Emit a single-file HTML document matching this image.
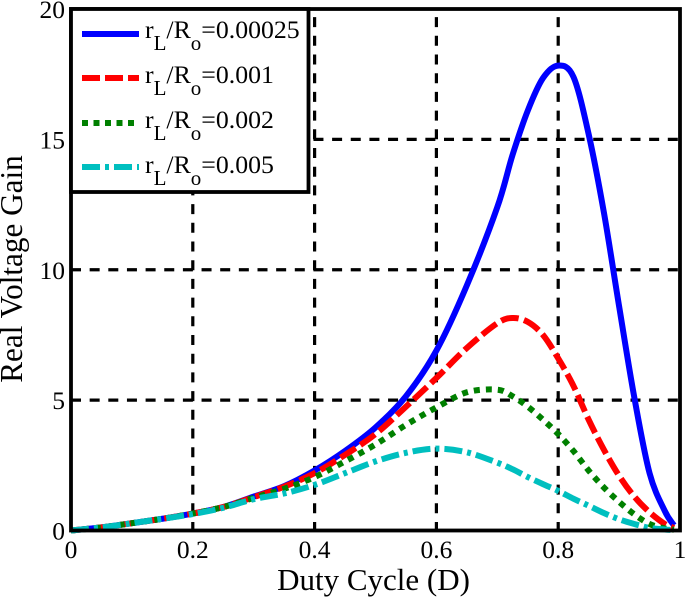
<!DOCTYPE html>
<html>
<head>
<meta charset="utf-8">
<style>
html,body{margin:0;padding:0;background:#fff;width:685px;height:598px;overflow:hidden}
svg{display:block}
text{font-family:"Liberation Serif",serif;fill:#000}
</style>
</head>
<body>
<svg id="chart" width="685" height="598" viewBox="0 0 685 598" xmlns="http://www.w3.org/2000/svg">
  <g id="grid"></g>
  <g id="series"></g>
  <rect x="71" y="9" width="609" height="521.5" fill="none" stroke="#000" stroke-width="3.8"/>
  <g id="xticks"></g>
  <g id="yticks"></g>
  <text x="373.5" y="590" text-anchor="middle" font-size="31">Duty Cycle (D)</text>
  <text transform="translate(22,269) rotate(-90)" text-anchor="middle" font-size="31.2">Real Voltage Gain</text>

  <g>
    <rect x="71" y="9" width="237.5" height="183" fill="#fff" stroke="#000" stroke-width="3.8"/>
    <line x1="82" y1="34" x2="139" y2="34" stroke="#0000ff" stroke-width="6"/>
    <text x="145" y="38" font-size="25.8">r<tspan dy="12" font-size="21">L</tspan><tspan dy="-12">/R</tspan><tspan dy="12" font-size="21">o</tspan><tspan dy="-12">=0.00025</tspan></text>
    <line x1="82" y1="78" x2="139" y2="78" stroke="#ff0000" stroke-width="6" stroke-dasharray="18 5"/>
    <text x="145" y="83" font-size="25.8">r<tspan dy="12" font-size="21">L</tspan><tspan dy="-12">/R</tspan><tspan dy="12" font-size="21">o</tspan><tspan dy="-12">=0.001</tspan></text>
    <line x1="82" y1="123" x2="139" y2="123" stroke="#008000" stroke-width="6" stroke-dasharray="6 5.5"/>
    <text x="145" y="128" font-size="25.8">r<tspan dy="12" font-size="21">L</tspan><tspan dy="-12">/R</tspan><tspan dy="12" font-size="21">o</tspan><tspan dy="-12">=0.002</tspan></text>
    <line x1="82" y1="167" x2="139" y2="167" stroke="#00bfbf" stroke-width="6" stroke-dasharray="18 5 4 5"/>
    <text x="145" y="173" font-size="25.8">r<tspan dy="12" font-size="21">L</tspan><tspan dy="-12">/R</tspan><tspan dy="12" font-size="21">o</tspan><tspan dy="-12">=0.005</tspan></text>
  </g>
</svg>
<script>
const xTicks = [0, 0.2, 0.4, 0.6, 0.8, 1];
const yTicks = [0, 5, 10, 15, 20];
const dutyCycle = [0, 0.05, 0.1, 0.15, 0.2, 0.25, 0.3, 0.35, 0.4, 0.45, 0.5, 0.55, 0.6, 0.65, 0.7, 0.725, 0.75, 0.775, 0.8, 0.825, 0.85, 0.875, 0.9, 0.925, 0.95, 0.975, 0.99];
const gain00025 = [0, 0.12, 0.28, 0.45, 0.65, 0.9, 1.3, 1.7, 2.3, 3.05, 3.95, 5.15, 6.9, 9.4, 12.4, 14.4, 16.1, 17.35, 17.83, 17.4, 15.2, 12.2, 8.6, 5.1, 2.2, 0.75, 0.2];
const gain001 = [0, 0.12, 0.28, 0.45, 0.65, 0.9, 1.28, 1.68, 2.2, 2.9, 3.7, 4.75, 5.85, 7, 7.95, 8.15, 8, 7.5, 6.6, 5.55, 4.25, 3.1, 2.1, 1.3, 0.7, 0.25, 0.1];
const gain002 = [0, 0.12, 0.28, 0.45, 0.65, 0.9, 1.25, 1.6, 2.05, 2.65, 3.3, 4.05, 4.72, 5.3, 5.4, 5.15, 4.75, 4.25, 3.7, 3.05, 2.3, 1.65, 1.1, 0.62, 0.25, 0.08, 0.03];
const gain005 = [0, 0.12, 0.28, 0.45, 0.63, 0.87, 1.2, 1.42, 1.75, 2.2, 2.65, 2.98, 3.14, 3, 2.6, 2.35, 2.05, 1.78, 1.52, 1.22, 0.95, 0.67, 0.43, 0.25, 0.1, 0.04, 0.02];

const NS = 'http://www.w3.org/2000/svg';
function xScale(d) { return 71 + 609 * d; }
function yScale(g) { return 530.5 - 26.075 * g; }

function curvePath(xs, ys) {
  const p = xs.map(function (x, i) { return [xScale(x), yScale(ys[i])]; });
  let s = 'M' + p[0][0].toFixed(2) + ' ' + p[0][1].toFixed(2);
  for (let i = 0; i < p.length - 1; i++) {
    const a = p[Math.max(i - 1, 0)], b = p[i], c = p[i + 1], e = p[Math.min(i + 2, p.length - 1)];
    const c1x = b[0] + (c[0] - a[0]) / 6, c1y = b[1] + (c[1] - a[1]) / 6;
    const c2x = c[0] - (e[0] - b[0]) / 6, c2y = c[1] - (e[1] - b[1]) / 6;
    s += 'C' + c1x.toFixed(2) + ' ' + c1y.toFixed(2) + ' ' + c2x.toFixed(2) + ' ' + c2y.toFixed(2) + ' ' + c[0].toFixed(2) + ' ' + c[1].toFixed(2);
  }
  return s;
}

const gridGroup = document.getElementById('grid');
xTicks.slice(1, -1).forEach(function (t) {
  const gl = document.createElementNS(NS, 'line');
  
  
  gl.setAttribute('x1', xScale(t));
  gl.setAttribute('x2', xScale(t));
  gl.setAttribute('y1', yScale(0) + 1.5);
  gl.setAttribute('y2', yScale(20));
  gl.setAttribute('stroke', '#000');
  gl.setAttribute('stroke-width', '3.2');
  gl.setAttribute('stroke-dasharray', '10 8.7');
  gridGroup.appendChild(gl);
});
yTicks.slice(1, -1).forEach(function (t) {
  const gl = document.createElementNS(NS, 'line');
  
  
  gl.setAttribute('x1', xScale(0));
  gl.setAttribute('x2', xScale(1));
  gl.setAttribute('y1', yScale(t));
  gl.setAttribute('y2', yScale(t));
  gl.setAttribute('stroke', '#000');
  gl.setAttribute('stroke-width', '3.2');
  gl.setAttribute('stroke-dasharray', '10 8.65');
  gridGroup.appendChild(gl);
});

const seriesGroup = document.getElementById('series');

const line00025 = document.createElementNS(NS, 'path');


line00025.setAttribute('d', curvePath(dutyCycle, gain00025));
line00025.setAttribute('fill', 'none');
line00025.setAttribute('stroke', '#0000ff');
line00025.setAttribute('stroke-width', '6');
seriesGroup.appendChild(line00025);

const line001 = document.createElementNS(NS, 'path');


line001.setAttribute('d', curvePath(dutyCycle, gain001));
line001.setAttribute('fill', 'none');
line001.setAttribute('stroke', '#ff0000');
line001.setAttribute('stroke-width', '6');
line001.setAttribute('stroke-dasharray', '18 5.5');
seriesGroup.appendChild(line001);

const line002 = document.createElementNS(NS, 'path');


line002.setAttribute('d', curvePath(dutyCycle, gain002));
line002.setAttribute('fill', 'none');
line002.setAttribute('stroke', '#008000');
line002.setAttribute('stroke-width', '6');
line002.setAttribute('stroke-dasharray', '6 6');
seriesGroup.appendChild(line002);

const line005 = document.createElementNS(NS, 'path');


line005.setAttribute('d', curvePath(dutyCycle, gain005));
line005.setAttribute('fill', 'none');
line005.setAttribute('stroke', '#00bfbf');
line005.setAttribute('stroke-width', '6');
line005.setAttribute('stroke-dasharray', '18 5 4 5');
seriesGroup.appendChild(line005);

const xTickGroup = document.getElementById('xticks');
xTicks.forEach(function (t) {
  const tl = document.createElementNS(NS, 'text');
  
  
  tl.setAttribute('x', xScale(t));
  tl.setAttribute('y', '558');
  tl.setAttribute('text-anchor', 'middle');
  tl.setAttribute('font-size', '25.5');
  tl.textContent = String(t);
  xTickGroup.appendChild(tl);
});
const yTickGroup = document.getElementById('yticks');
yTicks.forEach(function (t) {
  const tl = document.createElementNS(NS, 'text');
  
  
  tl.setAttribute('x', '65');
  tl.setAttribute('y', yScale(t) + 9);
  tl.setAttribute('text-anchor', 'end');
  tl.setAttribute('font-size', '25.5');
  tl.textContent = String(t);
  yTickGroup.appendChild(tl);
});
</script>
</body>
</html>
